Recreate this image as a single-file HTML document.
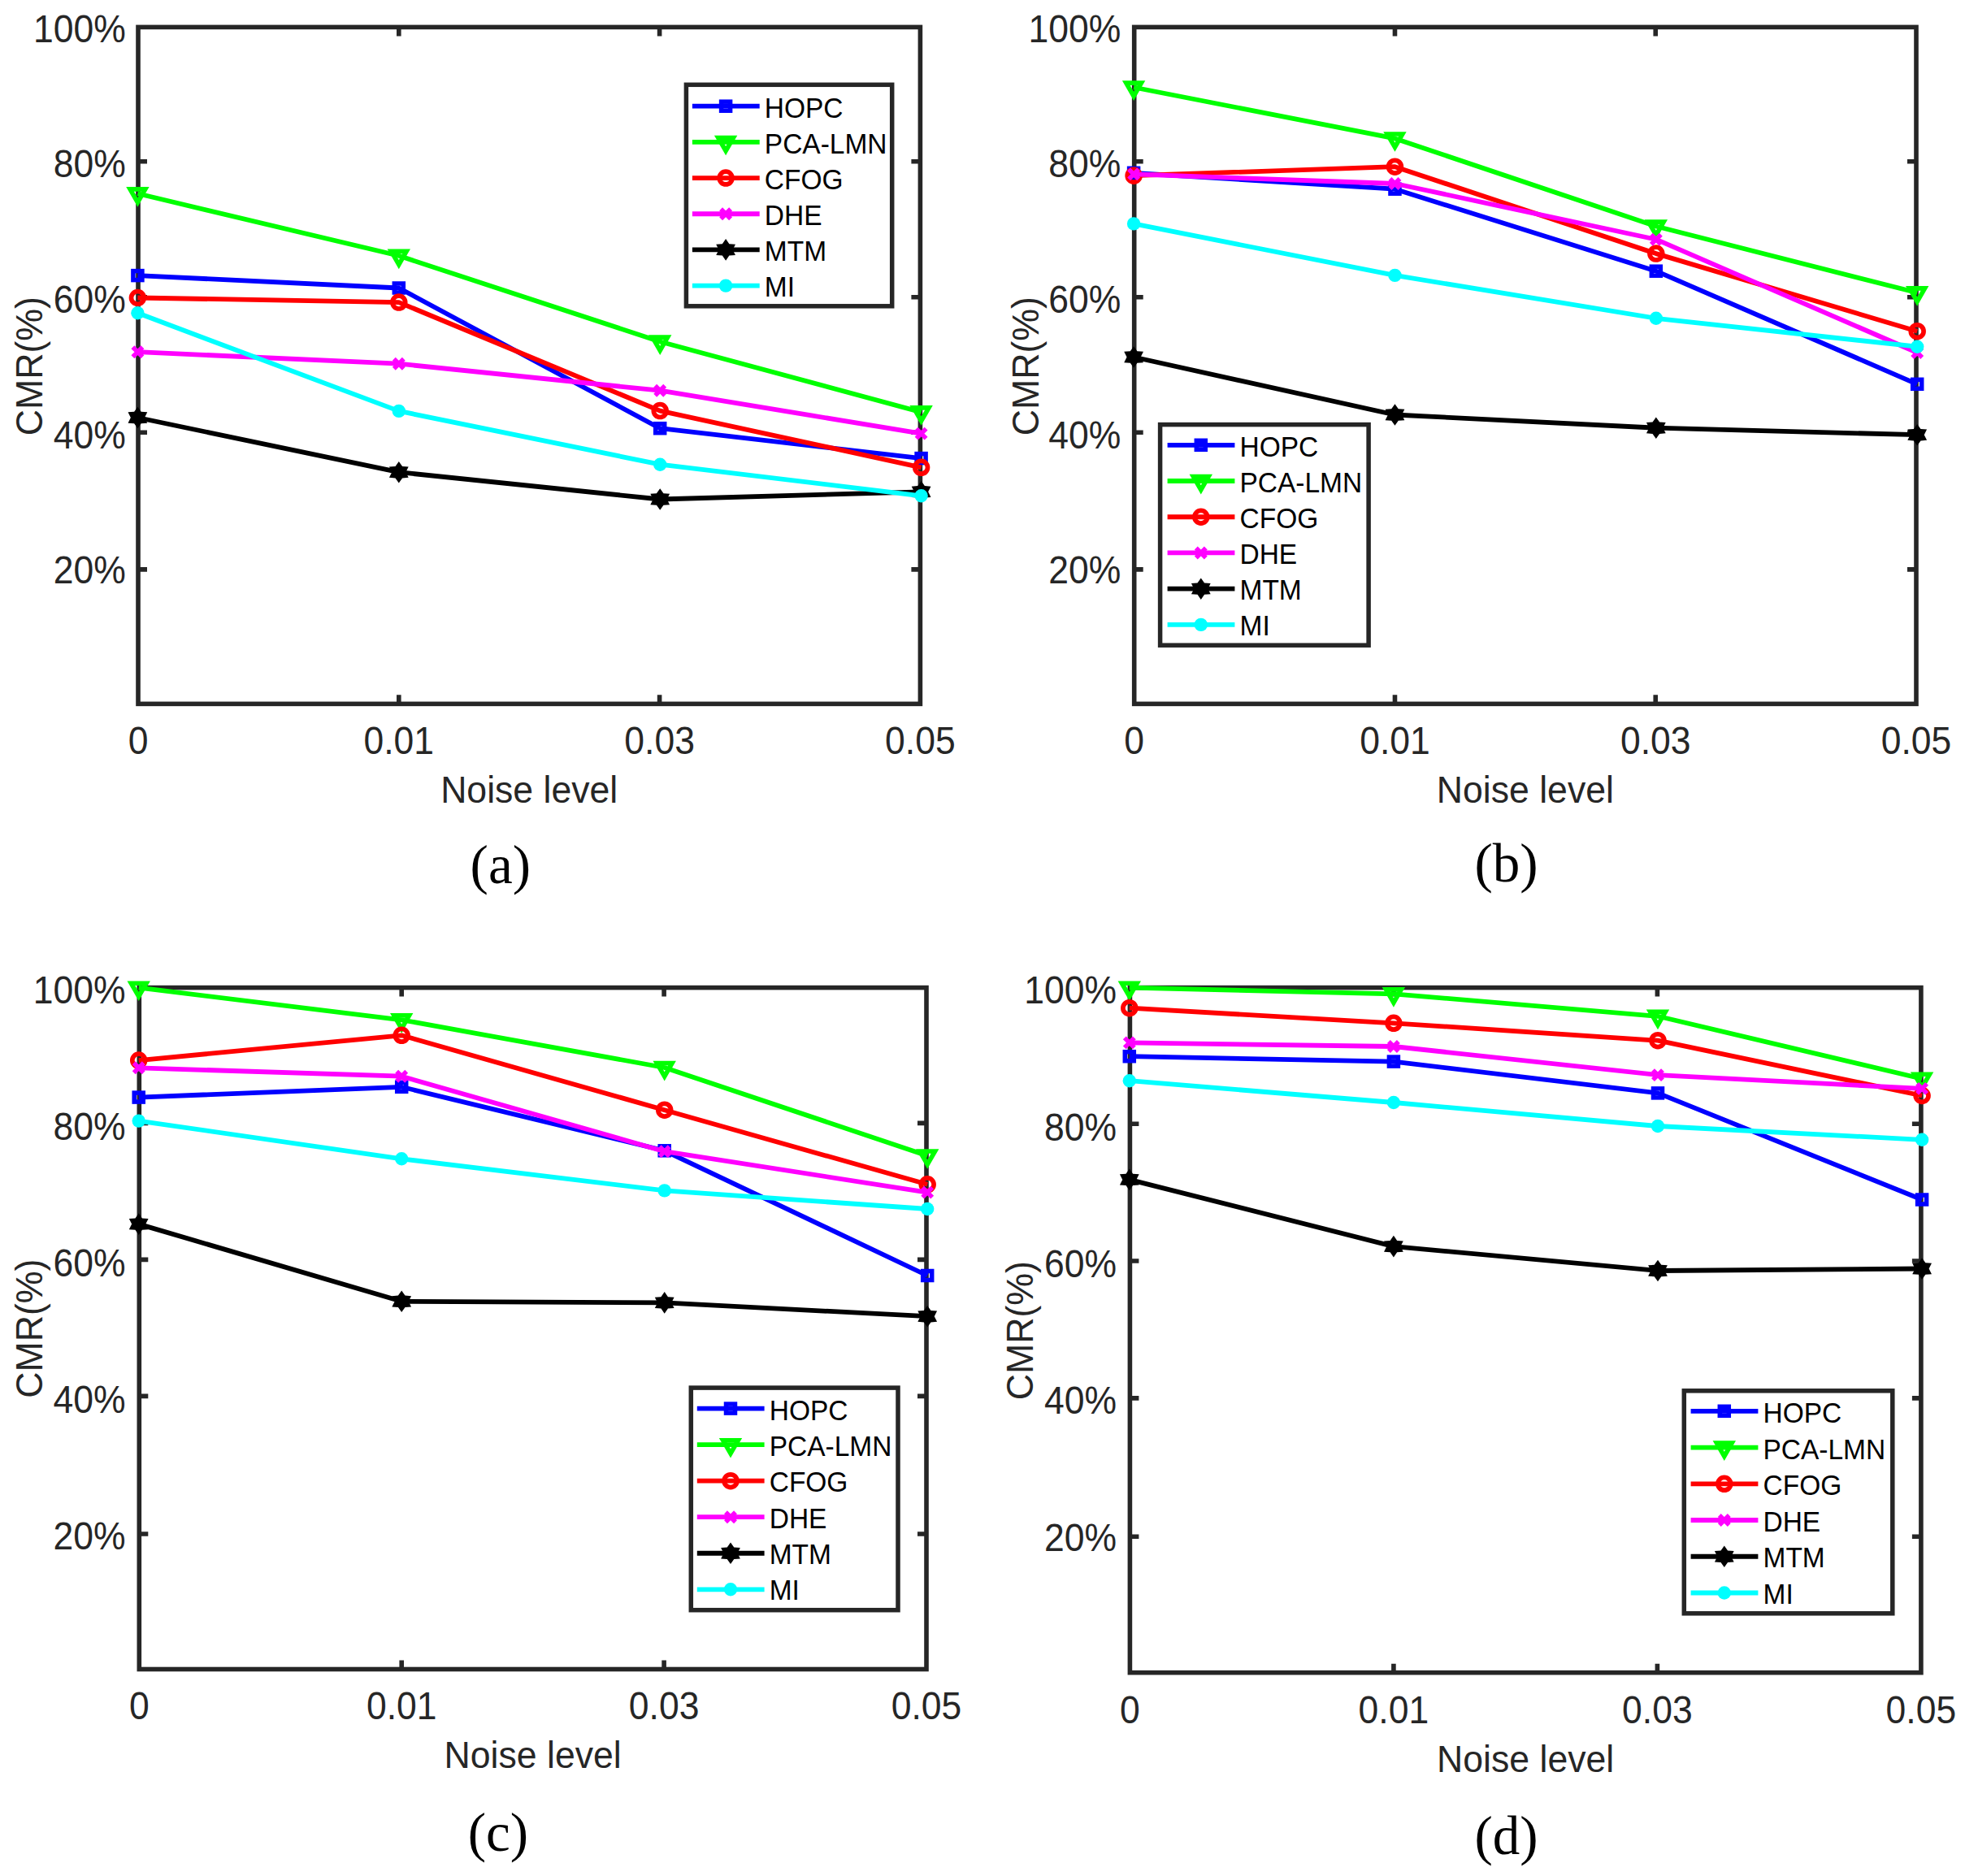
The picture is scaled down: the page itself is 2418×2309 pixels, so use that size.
<!DOCTYPE html>
<html lang="en">
<head>
<meta charset="utf-8">
<title>CMR versus noise level</title>
<style>
html, body { margin: 0; padding: 0; background: #ffffff; }
body { width: 2418px; height: 2309px; overflow: hidden; }
svg { display: block; }
</style>
</head>
<body>
<svg width="2418" height="2309" viewBox="0 0 2418 2309">
<defs>
<g id="m-sq"><rect x="-5.5" y="-5.5" width="11" height="11" fill="none" stroke="#0000ff" stroke-width="5.5"/></g>
<g id="m-tri"><path d="M-9.35,-5.4 L9.35,-5.4 L0,10.8 Z" fill="none" stroke="#00ff00" stroke-width="5.6" stroke-linejoin="miter"/></g>
<g id="m-circ"><circle r="7.9" fill="none" stroke="#ff0000" stroke-width="5.7"/></g>
<g id="m-x"><path d="M-6,-6 L6,6 M-6,6 L6,-6" fill="none" stroke="#ff00ff" stroke-width="5.5"/></g>
<g id="m-hex"><polygon transform="scale(1.03,1)" points="0,-13.3 4.15,-7.19 11.52,-6.65 8.3,0 11.52,6.65 4.15,7.19 0,13.3 -4.15,7.19 -11.52,6.65 -8.3,0 -11.52,-6.65 -4.15,-7.19" fill="#000000"/></g>
<g id="m-dot"><circle r="8.2" fill="#00ffff"/></g>
</defs>
<rect x="0" y="0" width="2418" height="2309" fill="#ffffff"/>
<g id="chart-a">
<rect x="170" y="33.4" width="962.4" height="832.95" fill="none" stroke="#262626" stroke-width="5.6"/>
<path d="M490.8,866.35 V855.35 M490.8,33.4 V44.4 M811.6,866.35 V855.35 M811.6,33.4 V44.4 M170,198.7 H181 M1132.4,198.7 H1121.4 M170,365.7 H181 M1132.4,365.7 H1121.4 M170,532.3 H181 M1132.4,532.3 H1121.4 M170,700.9 H181 M1132.4,700.9 H1121.4" fill="none" stroke="#262626" stroke-width="5.6"/>
<g font-family="'Liberation Sans', Arial, sans-serif" font-size="44.5" fill="#262626" text-anchor="end">
<text transform="translate(154.8,51.8) scale(1,1.08)">100%</text>
<text transform="translate(154.8,218.4) scale(1,1.08)">80%</text>
<text transform="translate(154.8,385) scale(1,1.08)">60%</text>
<text transform="translate(154.8,551.6) scale(1,1.08)">40%</text>
<text transform="translate(154.8,718.2) scale(1,1.08)">20%</text>
</g>
<g font-family="'Liberation Sans', Arial, sans-serif" font-size="44.5" fill="#262626" text-anchor="middle">
<text transform="translate(170,927.55) scale(1,1.075)">0</text>
<text transform="translate(490.8,927.55) scale(1,1.075)">0.01</text>
<text transform="translate(811.6,927.55) scale(1,1.075)">0.03</text>
<text transform="translate(1132.4,927.55) scale(1,1.075)">0.05</text>
</g>
<text transform="translate(651.2,987.65) scale(1,1.035)" font-family="'Liberation Sans', Arial, sans-serif" font-size="44.6" fill="#262626" text-anchor="middle">Noise level</text>
<text transform="translate(52.1,450.68) rotate(-90) scale(1,1.04)" font-family="'Liberation Sans', Arial, sans-serif" font-size="44.7" fill="#262626" text-anchor="middle">CMR(%)</text>
<polyline points="169.4,339.1 490.8,354.5 812.2,527.2 1133.6,564.1" fill="none" stroke="#0000ff" stroke-width="5.8" stroke-linejoin="round"/>
<use href="#m-sq" x="169.4" y="339.1"/>
<use href="#m-sq" x="490.8" y="354.5"/>
<use href="#m-sq" x="812.2" y="527.2"/>
<use href="#m-sq" x="1133.6" y="564.1"/>
<polyline points="169.4,238.3 490.8,314.8 812.2,420.5 1133.6,507.3" fill="none" stroke="#00ff00" stroke-width="5.8" stroke-linejoin="round"/>
<use href="#m-tri" x="169.4" y="238.3"/>
<use href="#m-tri" x="490.8" y="314.8"/>
<use href="#m-tri" x="812.2" y="420.5"/>
<use href="#m-tri" x="1133.6" y="507.3"/>
<polyline points="169.4,366.5 490.8,372.1 812.2,505.6 1133.6,575.3" fill="none" stroke="#ff0000" stroke-width="5.8" stroke-linejoin="round"/>
<use href="#m-circ" x="169.4" y="366.5"/>
<use href="#m-circ" x="490.8" y="372.1"/>
<use href="#m-circ" x="812.2" y="505.6"/>
<use href="#m-circ" x="1133.6" y="575.3"/>
<polyline points="169.4,433.2 490.8,447.7 812.2,480.7 1133.6,533.6" fill="none" stroke="#ff00ff" stroke-width="5.8" stroke-linejoin="round"/>
<use href="#m-x" x="169.4" y="433.2"/>
<use href="#m-x" x="490.8" y="447.7"/>
<use href="#m-x" x="812.2" y="480.7"/>
<use href="#m-x" x="1133.6" y="533.6"/>
<polyline points="169.4,514 490.8,581.2 812.2,614.5 1133.6,605.3" fill="none" stroke="#000000" stroke-width="5.8" stroke-linejoin="round"/>
<use href="#m-hex" x="169.4" y="514"/>
<use href="#m-hex" x="490.8" y="581.2"/>
<use href="#m-hex" x="812.2" y="614.5"/>
<use href="#m-hex" x="1133.6" y="605.3"/>
<polyline points="169.4,385.3 490.8,505.9 812.2,571.7 1133.6,610.3" fill="none" stroke="#00ffff" stroke-width="5.8" stroke-linejoin="round"/>
<use href="#m-dot" x="169.4" y="385.3"/>
<use href="#m-dot" x="490.8" y="505.9"/>
<use href="#m-dot" x="812.2" y="571.7"/>
<use href="#m-dot" x="1133.6" y="610.3"/>
<rect x="844.4" y="104.3" width="253.3" height="272.5" fill="#ffffff" stroke="#262626" stroke-width="5.5"/>
<g font-family="'Liberation Sans', Arial, sans-serif" font-size="33.5" fill="#000000">
<path d="M851.9,130.7 H934.7" stroke="#0000ff" stroke-width="5.8" fill="none"/>
<use href="#m-sq" x="893.1" y="130.7"/>
<text transform="translate(940.8,144.9) scale(1,1.04)">HOPC</text>
<path d="M851.9,174.88 H934.7" stroke="#00ff00" stroke-width="5.8" fill="none"/>
<use href="#m-tri" x="893.1" y="174.88"/>
<text transform="translate(940.8,188.84) scale(1,1.04)">PCA-LMN</text>
<path d="M851.9,219.06 H934.7" stroke="#ff0000" stroke-width="5.8" fill="none"/>
<use href="#m-circ" x="893.1" y="219.06"/>
<text transform="translate(940.8,232.78) scale(1,1.04)">CFOG</text>
<path d="M851.9,263.24 H934.7" stroke="#ff00ff" stroke-width="5.8" fill="none"/>
<use href="#m-x" x="893.1" y="263.24"/>
<text transform="translate(940.8,276.72) scale(1,1.04)">DHE</text>
<path d="M851.9,307.42 H934.7" stroke="#000000" stroke-width="5.8" fill="none"/>
<use href="#m-hex" x="893.1" y="307.42"/>
<text transform="translate(940.8,320.66) scale(1,1.04)">MTM</text>
<path d="M851.9,351.6 H934.7" stroke="#00ffff" stroke-width="5.8" fill="none"/>
<use href="#m-dot" x="893.1" y="351.6"/>
<text transform="translate(940.8,364.6) scale(1,1.04)">MI</text>
</g>
<text x="615.8" y="1086.6" font-family="'Liberation Serif', 'Times New Roman', serif" font-size="67.0" fill="#000000" text-anchor="middle">(a)</text>
</g>
<g id="chart-b">
<rect x="1395.7" y="33.4" width="962.3" height="832.95" fill="none" stroke="#262626" stroke-width="5.6"/>
<path d="M1716.47,866.35 V855.35 M1716.47,33.4 V44.4 M2037.23,866.35 V855.35 M2037.23,33.4 V44.4 M1395.7,198.7 H1406.7 M2358,198.7 H2347 M1395.7,365.7 H1406.7 M2358,365.7 H2347 M1395.7,532.3 H1406.7 M2358,532.3 H2347 M1395.7,700.9 H1406.7 M2358,700.9 H2347" fill="none" stroke="#262626" stroke-width="5.6"/>
<g font-family="'Liberation Sans', Arial, sans-serif" font-size="44.5" fill="#262626" text-anchor="end">
<text transform="translate(1379.3,51.8) scale(1,1.08)">100%</text>
<text transform="translate(1379.3,218.4) scale(1,1.08)">80%</text>
<text transform="translate(1379.3,385) scale(1,1.08)">60%</text>
<text transform="translate(1379.3,551.6) scale(1,1.08)">40%</text>
<text transform="translate(1379.3,718.2) scale(1,1.08)">20%</text>
</g>
<g font-family="'Liberation Sans', Arial, sans-serif" font-size="44.5" fill="#262626" text-anchor="middle">
<text transform="translate(1395.7,927.55) scale(1,1.075)">0</text>
<text transform="translate(1716.47,927.55) scale(1,1.075)">0.01</text>
<text transform="translate(2037.23,927.55) scale(1,1.075)">0.03</text>
<text transform="translate(2358,927.55) scale(1,1.075)">0.05</text>
</g>
<text transform="translate(1876.85,987.65) scale(1,1.035)" font-family="'Liberation Sans', Arial, sans-serif" font-size="44.6" fill="#262626" text-anchor="middle">Noise level</text>
<text transform="translate(1277.6,450.68) rotate(-90) scale(1,1.04)" font-family="'Liberation Sans', Arial, sans-serif" font-size="44.7" fill="#262626" text-anchor="middle">CMR(%)</text>
<polyline points="1395.1,212.8 1716.47,232.7 2037.83,333.7 2359.2,472.8" fill="none" stroke="#0000ff" stroke-width="5.8" stroke-linejoin="round"/>
<use href="#m-sq" x="1395.1" y="212.8"/>
<use href="#m-sq" x="1716.47" y="232.7"/>
<use href="#m-sq" x="2037.83" y="333.7"/>
<use href="#m-sq" x="2359.2" y="472.8"/>
<polyline points="1395.1,107.5 1716.47,170.4 2037.83,278.5 2359.2,360.3" fill="none" stroke="#00ff00" stroke-width="5.8" stroke-linejoin="round"/>
<use href="#m-tri" x="1395.1" y="107.5"/>
<use href="#m-tri" x="1716.47" y="170.4"/>
<use href="#m-tri" x="2037.83" y="278.5"/>
<use href="#m-tri" x="2359.2" y="360.3"/>
<polyline points="1395.1,216.2 1716.47,205.2 2037.83,312.1 2359.2,407.7" fill="none" stroke="#ff0000" stroke-width="5.8" stroke-linejoin="round"/>
<use href="#m-circ" x="1395.1" y="216.2"/>
<use href="#m-circ" x="1716.47" y="205.2"/>
<use href="#m-circ" x="2037.83" y="312.1"/>
<use href="#m-circ" x="2359.2" y="407.7"/>
<polyline points="1395.1,214.4 1716.47,226 2037.83,294.7 2359.2,434" fill="none" stroke="#ff00ff" stroke-width="5.8" stroke-linejoin="round"/>
<use href="#m-x" x="1395.1" y="214.4"/>
<use href="#m-x" x="1716.47" y="226"/>
<use href="#m-x" x="2037.83" y="294.7"/>
<use href="#m-x" x="2359.2" y="434"/>
<polyline points="1395.1,439.5 1716.47,510.5 2037.83,526.7 2359.2,535.2" fill="none" stroke="#000000" stroke-width="5.8" stroke-linejoin="round"/>
<use href="#m-hex" x="1395.1" y="439.5"/>
<use href="#m-hex" x="1716.47" y="510.5"/>
<use href="#m-hex" x="2037.83" y="526.7"/>
<use href="#m-hex" x="2359.2" y="535.2"/>
<polyline points="1395.1,275.4 1716.47,338.9 2037.83,391.8 2359.2,426.7" fill="none" stroke="#00ffff" stroke-width="5.8" stroke-linejoin="round"/>
<use href="#m-dot" x="1395.1" y="275.4"/>
<use href="#m-dot" x="1716.47" y="338.9"/>
<use href="#m-dot" x="2037.83" y="391.8"/>
<use href="#m-dot" x="2359.2" y="426.7"/>
<rect x="1427.6" y="522.6" width="256.5" height="271.6" fill="#ffffff" stroke="#262626" stroke-width="5.5"/>
<g font-family="'Liberation Sans', Arial, sans-serif" font-size="33.5" fill="#000000">
<path d="M1436.6,547.8 H1519.4" stroke="#0000ff" stroke-width="5.8" fill="none"/>
<use href="#m-sq" x="1477.8" y="547.8"/>
<text transform="translate(1525.5,562) scale(1,1.04)">HOPC</text>
<path d="M1436.6,592.02 H1519.4" stroke="#00ff00" stroke-width="5.8" fill="none"/>
<use href="#m-tri" x="1477.8" y="592.02"/>
<text transform="translate(1525.5,605.98) scale(1,1.04)">PCA-LMN</text>
<path d="M1436.6,636.24 H1519.4" stroke="#ff0000" stroke-width="5.8" fill="none"/>
<use href="#m-circ" x="1477.8" y="636.24"/>
<text transform="translate(1525.5,649.96) scale(1,1.04)">CFOG</text>
<path d="M1436.6,680.46 H1519.4" stroke="#ff00ff" stroke-width="5.8" fill="none"/>
<use href="#m-x" x="1477.8" y="680.46"/>
<text transform="translate(1525.5,693.94) scale(1,1.04)">DHE</text>
<path d="M1436.6,724.68 H1519.4" stroke="#000000" stroke-width="5.8" fill="none"/>
<use href="#m-hex" x="1477.8" y="724.68"/>
<text transform="translate(1525.5,737.92) scale(1,1.04)">MTM</text>
<path d="M1436.6,768.9 H1519.4" stroke="#00ffff" stroke-width="5.8" fill="none"/>
<use href="#m-dot" x="1477.8" y="768.9"/>
<text transform="translate(1525.5,781.9) scale(1,1.04)">MI</text>
</g>
<text x="1853.6" y="1085.2" font-family="'Liberation Serif', 'Times New Roman', serif" font-size="67.0" fill="#000000" text-anchor="middle">(b)</text>
</g>
<g id="chart-c">
<rect x="171.3" y="1215.6" width="968.7" height="838.9" fill="none" stroke="#262626" stroke-width="5.6"/>
<path d="M494.2,2054.5 V2043.5 M494.2,1215.6 V1226.6 M817.1,2054.5 V2043.5 M817.1,1215.6 V1226.6 M171.3,1382.4 H182.3 M1140,1382.4 H1129 M171.3,1550.4 H182.3 M1140,1550.4 H1129 M171.3,1718.4 H182.3 M1140,1718.4 H1129 M171.3,1888 H182.3 M1140,1888 H1129" fill="none" stroke="#262626" stroke-width="5.6"/>
<g font-family="'Liberation Sans', Arial, sans-serif" font-size="44.5" fill="#262626" text-anchor="end">
<text transform="translate(154.6,1234.6) scale(1,1.08)">100%</text>
<text transform="translate(154.6,1402.7) scale(1,1.08)">80%</text>
<text transform="translate(154.6,1570.6) scale(1,1.08)">60%</text>
<text transform="translate(154.6,1738.7) scale(1,1.08)">40%</text>
<text transform="translate(154.6,1906.8) scale(1,1.08)">20%</text>
</g>
<g font-family="'Liberation Sans', Arial, sans-serif" font-size="44.5" fill="#262626" text-anchor="middle">
<text transform="translate(171.3,2115.8) scale(1,1.075)">0</text>
<text transform="translate(494.2,2115.8) scale(1,1.075)">0.01</text>
<text transform="translate(817.1,2115.8) scale(1,1.075)">0.03</text>
<text transform="translate(1140,2115.8) scale(1,1.075)">0.05</text>
</g>
<text transform="translate(655.65,2176) scale(1,1.035)" font-family="'Liberation Sans', Arial, sans-serif" font-size="44.6" fill="#262626" text-anchor="middle">Noise level</text>
<text transform="translate(52.1,1635.2) rotate(-90) scale(1,1.04)" font-family="'Liberation Sans', Arial, sans-serif" font-size="44.7" fill="#262626" text-anchor="middle">CMR(%)</text>
<polyline points="170.7,1350.6 494.2,1337.8 817.7,1416.3 1141.2,1570" fill="none" stroke="#0000ff" stroke-width="5.8" stroke-linejoin="round"/>
<use href="#m-sq" x="170.7" y="1350.6"/>
<use href="#m-sq" x="494.2" y="1337.8"/>
<use href="#m-sq" x="817.7" y="1416.3"/>
<use href="#m-sq" x="1141.2" y="1570"/>
<polyline points="170.7,1215.6 494.2,1255.3 817.7,1314 1141.2,1422.4" fill="none" stroke="#00ff00" stroke-width="5.8" stroke-linejoin="round"/>
<use href="#m-tri" x="170.7" y="1215.6"/>
<use href="#m-tri" x="494.2" y="1255.3"/>
<use href="#m-tri" x="817.7" y="1314"/>
<use href="#m-tri" x="1141.2" y="1422.4"/>
<polyline points="170.7,1305.1 494.2,1274.3 817.7,1366.2 1141.2,1457.8" fill="none" stroke="#ff0000" stroke-width="5.8" stroke-linejoin="round"/>
<use href="#m-circ" x="170.7" y="1305.1"/>
<use href="#m-circ" x="494.2" y="1274.3"/>
<use href="#m-circ" x="817.7" y="1366.2"/>
<use href="#m-circ" x="1141.2" y="1457.8"/>
<polyline points="170.7,1314.3 494.2,1324.7 817.7,1417.2 1141.2,1467.6" fill="none" stroke="#ff00ff" stroke-width="5.8" stroke-linejoin="round"/>
<use href="#m-x" x="170.7" y="1314.3"/>
<use href="#m-x" x="494.2" y="1324.7"/>
<use href="#m-x" x="817.7" y="1417.2"/>
<use href="#m-x" x="1141.2" y="1467.6"/>
<polyline points="170.7,1506.6 494.2,1601.8 817.7,1603.4 1141.2,1620.2" fill="none" stroke="#000000" stroke-width="5.8" stroke-linejoin="round"/>
<use href="#m-hex" x="170.7" y="1506.6"/>
<use href="#m-hex" x="494.2" y="1601.8"/>
<use href="#m-hex" x="817.7" y="1603.4"/>
<use href="#m-hex" x="1141.2" y="1620.2"/>
<polyline points="170.7,1379.6 494.2,1426.3 817.7,1465.4 1141.2,1488" fill="none" stroke="#00ffff" stroke-width="5.8" stroke-linejoin="round"/>
<use href="#m-dot" x="170.7" y="1379.6"/>
<use href="#m-dot" x="494.2" y="1426.3"/>
<use href="#m-dot" x="817.7" y="1465.4"/>
<use href="#m-dot" x="1141.2" y="1488"/>
<rect x="850.3" y="1708.1" width="254.7" height="273.6" fill="#ffffff" stroke="#262626" stroke-width="5.5"/>
<g font-family="'Liberation Sans', Arial, sans-serif" font-size="33.5" fill="#000000">
<path d="M857.8,1733.6 H940.6" stroke="#0000ff" stroke-width="5.8" fill="none"/>
<use href="#m-sq" x="899" y="1733.6"/>
<text transform="translate(946.7,1747.8) scale(1,1.04)">HOPC</text>
<path d="M857.8,1778.14 H940.6" stroke="#00ff00" stroke-width="5.8" fill="none"/>
<use href="#m-tri" x="899" y="1778.14"/>
<text transform="translate(946.7,1792.1) scale(1,1.04)">PCA-LMN</text>
<path d="M857.8,1822.68 H940.6" stroke="#ff0000" stroke-width="5.8" fill="none"/>
<use href="#m-circ" x="899" y="1822.68"/>
<text transform="translate(946.7,1836.4) scale(1,1.04)">CFOG</text>
<path d="M857.8,1867.22 H940.6" stroke="#ff00ff" stroke-width="5.8" fill="none"/>
<use href="#m-x" x="899" y="1867.22"/>
<text transform="translate(946.7,1880.7) scale(1,1.04)">DHE</text>
<path d="M857.8,1911.76 H940.6" stroke="#000000" stroke-width="5.8" fill="none"/>
<use href="#m-hex" x="899" y="1911.76"/>
<text transform="translate(946.7,1925) scale(1,1.04)">MTM</text>
<path d="M857.8,1956.3 H940.6" stroke="#00ffff" stroke-width="5.8" fill="none"/>
<use href="#m-dot" x="899" y="1956.3"/>
<text transform="translate(946.7,1969.3) scale(1,1.04)">MI</text>
</g>
<text x="612.9" y="2277.7" font-family="'Liberation Serif', 'Times New Roman', serif" font-size="67.0" fill="#000000" text-anchor="middle">(c)</text>
</g>
<g id="chart-d">
<rect x="1390.4" y="1215.6" width="973.5" height="843.1" fill="none" stroke="#262626" stroke-width="5.6"/>
<path d="M1714.9,2058.7 V2047.7 M1714.9,1215.6 V1226.6 M2039.4,2058.7 V2047.7 M2039.4,1215.6 V1226.6 M1390.4,1383.3 H1401.4 M2363.9,1383.3 H2352.9 M1390.4,1552 H1401.4 M2363.9,1552 H2352.9 M1390.4,1720.9 H1401.4 M2363.9,1720.9 H2352.9 M1390.4,1891.3 H1401.4 M2363.9,1891.3 H2352.9" fill="none" stroke="#262626" stroke-width="5.6"/>
<g font-family="'Liberation Sans', Arial, sans-serif" font-size="44.5" fill="#262626" text-anchor="end">
<text transform="translate(1374,1235) scale(1,1.08)">100%</text>
<text transform="translate(1374,1403.5) scale(1,1.08)">80%</text>
<text transform="translate(1374,1572) scale(1,1.08)">60%</text>
<text transform="translate(1374,1740.2) scale(1,1.08)">40%</text>
<text transform="translate(1374,1908.5) scale(1,1.08)">20%</text>
</g>
<g font-family="'Liberation Sans', Arial, sans-serif" font-size="44.5" fill="#262626" text-anchor="middle">
<text transform="translate(1390.4,2120.8) scale(1,1.075)">0</text>
<text transform="translate(1714.9,2120.8) scale(1,1.075)">0.01</text>
<text transform="translate(2039.4,2120.8) scale(1,1.075)">0.03</text>
<text transform="translate(2363.9,2120.8) scale(1,1.075)">0.05</text>
</g>
<text transform="translate(1877.15,2181) scale(1,1.035)" font-family="'Liberation Sans', Arial, sans-serif" font-size="44.6" fill="#262626" text-anchor="middle">Noise level</text>
<text transform="translate(1270.7,1637.7) rotate(-90) scale(1,1.04)" font-family="'Liberation Sans', Arial, sans-serif" font-size="44.7" fill="#262626" text-anchor="middle">CMR(%)</text>
<polyline points="1389.8,1300.2 1714.9,1306.6 2040,1345.4 2365.1,1476.5" fill="none" stroke="#0000ff" stroke-width="5.8" stroke-linejoin="round"/>
<use href="#m-sq" x="1389.8" y="1300.2"/>
<use href="#m-sq" x="1714.9" y="1306.6"/>
<use href="#m-sq" x="2040" y="1345.4"/>
<use href="#m-sq" x="2365.1" y="1476.5"/>
<polyline points="1389.8,1215.6 1714.9,1223.3 2040,1250.8 2365.1,1327.7" fill="none" stroke="#00ff00" stroke-width="5.8" stroke-linejoin="round"/>
<use href="#m-tri" x="1389.8" y="1215.6"/>
<use href="#m-tri" x="1714.9" y="1223.3"/>
<use href="#m-tri" x="2040" y="1250.8"/>
<use href="#m-tri" x="2365.1" y="1327.7"/>
<polyline points="1389.8,1240.7 1714.9,1259.3 2040,1280.7 2365.1,1348.5" fill="none" stroke="#ff0000" stroke-width="5.8" stroke-linejoin="round"/>
<use href="#m-circ" x="1389.8" y="1240.7"/>
<use href="#m-circ" x="1714.9" y="1259.3"/>
<use href="#m-circ" x="2040" y="1280.7"/>
<use href="#m-circ" x="2365.1" y="1348.5"/>
<polyline points="1389.8,1283.4 1714.9,1288 2040,1323.1 2365.1,1339.9" fill="none" stroke="#ff00ff" stroke-width="5.8" stroke-linejoin="round"/>
<use href="#m-x" x="1389.8" y="1283.4"/>
<use href="#m-x" x="1714.9" y="1288"/>
<use href="#m-x" x="2040" y="1323.1"/>
<use href="#m-x" x="2365.1" y="1339.9"/>
<polyline points="1389.8,1451.9 1714.9,1534.1 2040,1564 2365.1,1561.5" fill="none" stroke="#000000" stroke-width="5.8" stroke-linejoin="round"/>
<use href="#m-hex" x="1389.8" y="1451.9"/>
<use href="#m-hex" x="1714.9" y="1534.1"/>
<use href="#m-hex" x="2040" y="1564"/>
<use href="#m-hex" x="2365.1" y="1561.5"/>
<polyline points="1389.8,1330.2 1714.9,1357 2040,1386 2365.1,1402.8" fill="none" stroke="#00ffff" stroke-width="5.8" stroke-linejoin="round"/>
<use href="#m-dot" x="1389.8" y="1330.2"/>
<use href="#m-dot" x="1714.9" y="1357"/>
<use href="#m-dot" x="2040" y="1386"/>
<use href="#m-dot" x="2365.1" y="1402.8"/>
<rect x="2072.3" y="1711.8" width="256.5" height="274" fill="#ffffff" stroke="#262626" stroke-width="5.5"/>
<g font-family="'Liberation Sans', Arial, sans-serif" font-size="33.5" fill="#000000">
<path d="M2080.6,1736.8 H2163.4" stroke="#0000ff" stroke-width="5.8" fill="none"/>
<use href="#m-sq" x="2121.8" y="1736.8"/>
<text transform="translate(2169.5,1751) scale(1,1.04)">HOPC</text>
<path d="M2080.6,1781.54 H2163.4" stroke="#00ff00" stroke-width="5.8" fill="none"/>
<use href="#m-tri" x="2121.8" y="1781.54"/>
<text transform="translate(2169.5,1795.5) scale(1,1.04)">PCA-LMN</text>
<path d="M2080.6,1826.28 H2163.4" stroke="#ff0000" stroke-width="5.8" fill="none"/>
<use href="#m-circ" x="2121.8" y="1826.28"/>
<text transform="translate(2169.5,1840) scale(1,1.04)">CFOG</text>
<path d="M2080.6,1871.02 H2163.4" stroke="#ff00ff" stroke-width="5.8" fill="none"/>
<use href="#m-x" x="2121.8" y="1871.02"/>
<text transform="translate(2169.5,1884.5) scale(1,1.04)">DHE</text>
<path d="M2080.6,1915.76 H2163.4" stroke="#000000" stroke-width="5.8" fill="none"/>
<use href="#m-hex" x="2121.8" y="1915.76"/>
<text transform="translate(2169.5,1929) scale(1,1.04)">MTM</text>
<path d="M2080.6,1960.5 H2163.4" stroke="#00ffff" stroke-width="5.8" fill="none"/>
<use href="#m-dot" x="2121.8" y="1960.5"/>
<text transform="translate(2169.5,1973.5) scale(1,1.04)">MI</text>
</g>
<text x="1853.6" y="2281.8" font-family="'Liberation Serif', 'Times New Roman', serif" font-size="67.0" fill="#000000" text-anchor="middle">(d)</text>
</g>
</svg>
</body>
</html>
